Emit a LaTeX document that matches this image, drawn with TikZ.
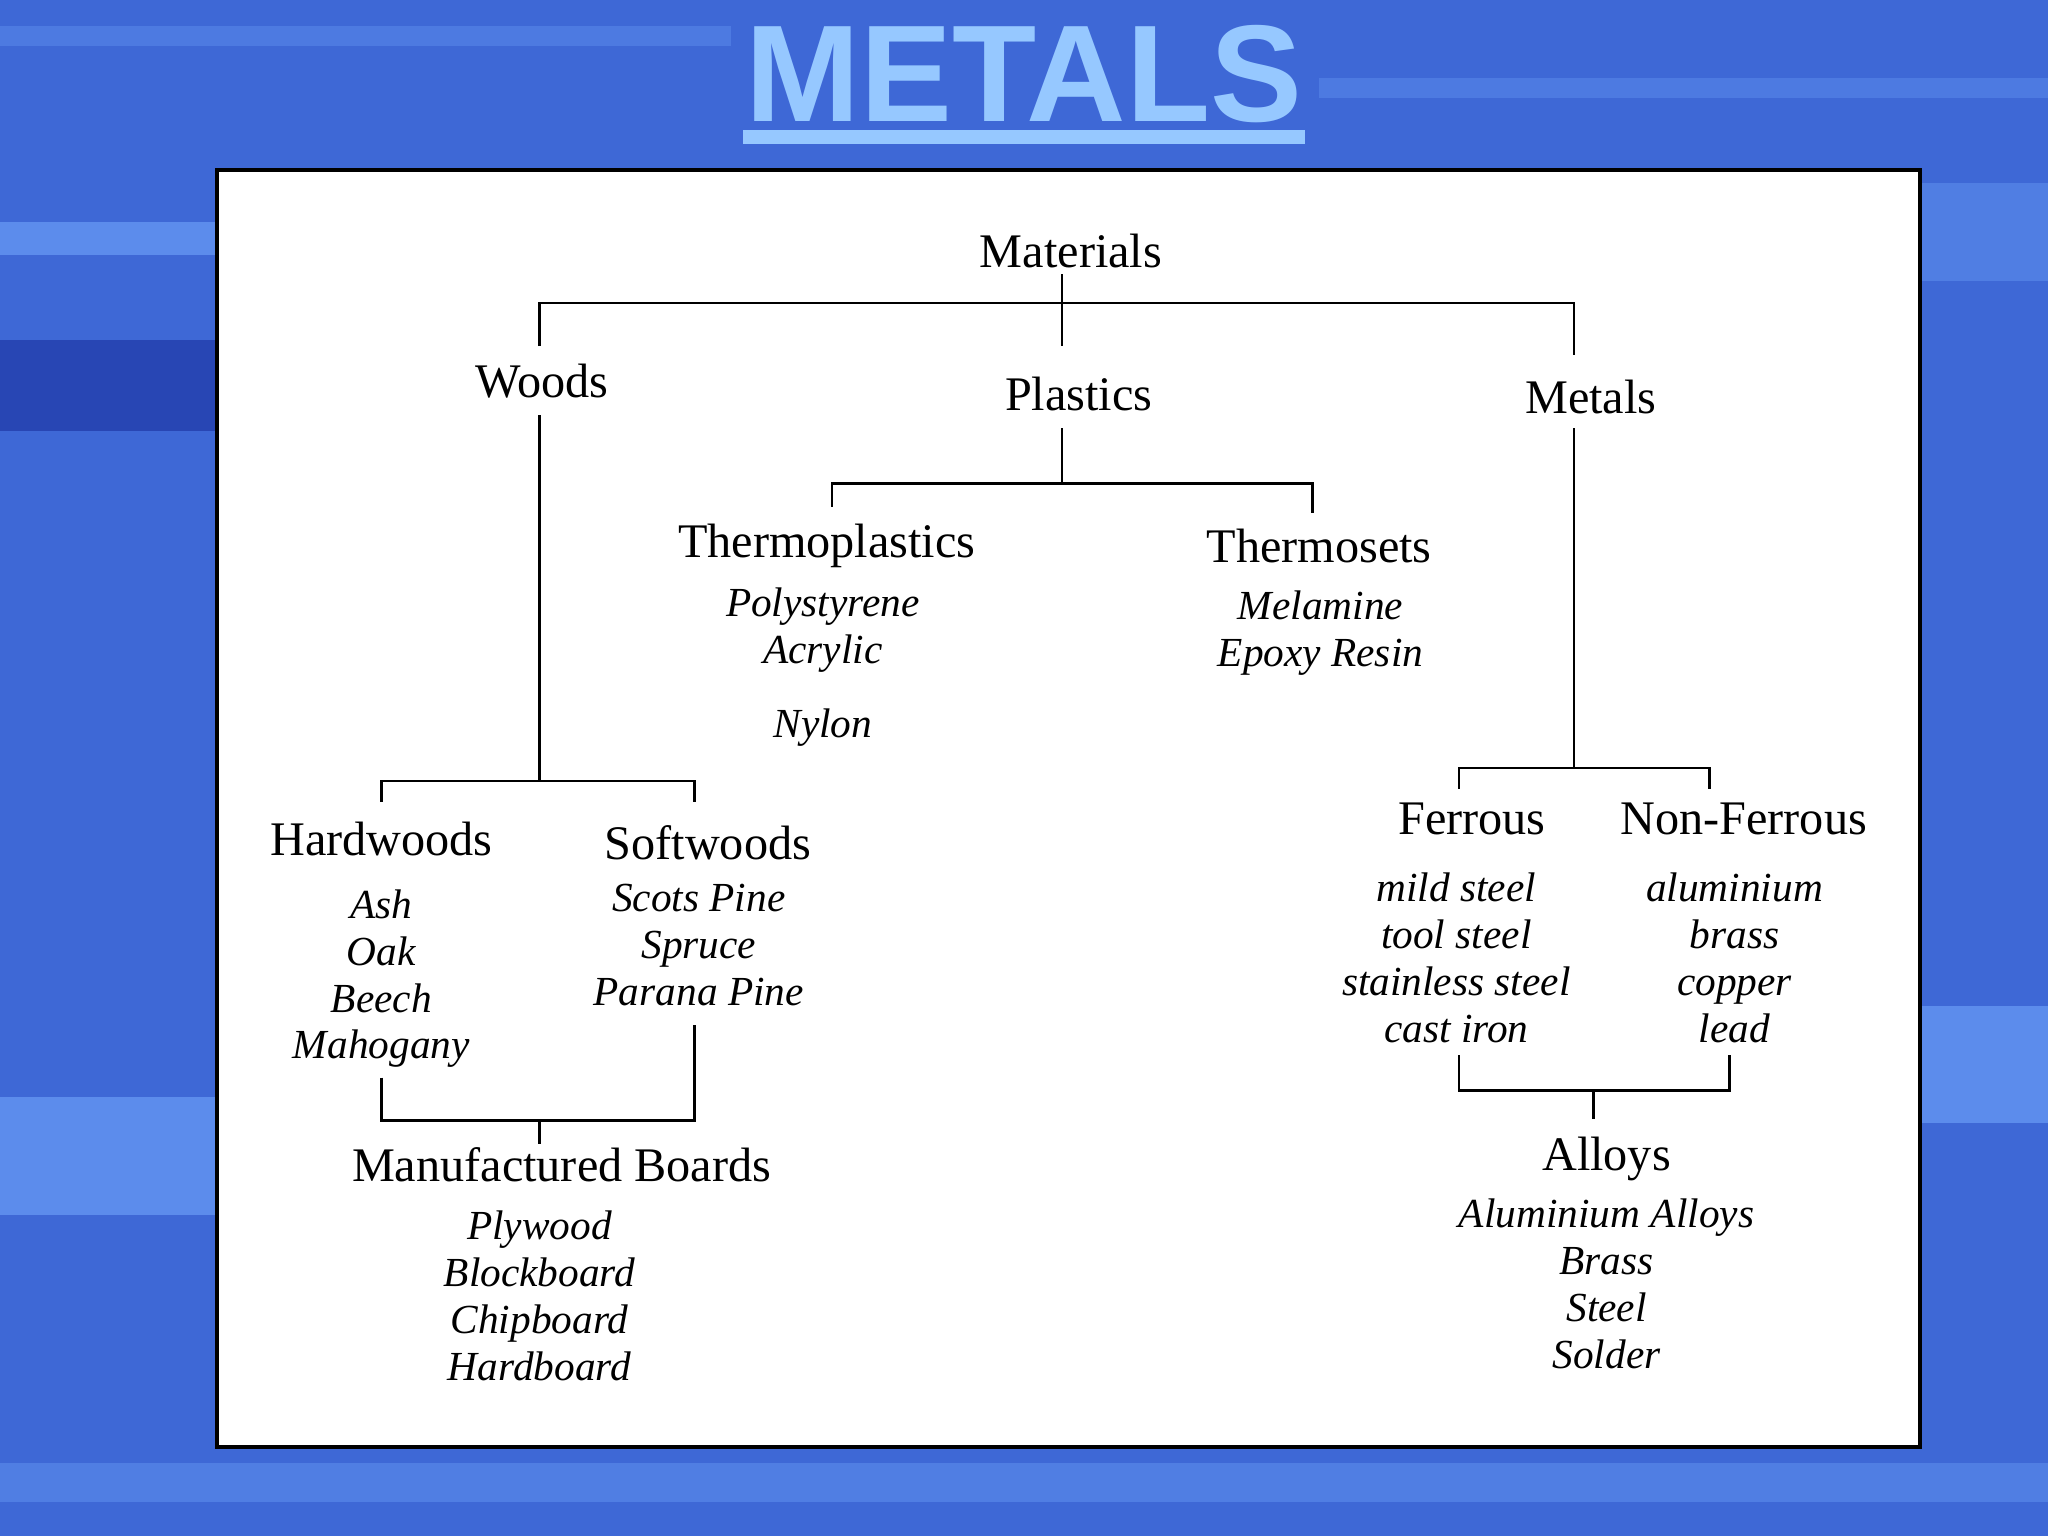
\documentclass[tikz,border=0pt]{standalone}
\usepackage{fontspec}
\setmainfont{Liberation Serif}
\newfontfamily\titlefont{Liberation Sans}
\usetikzlibrary{positioning}
\definecolor{slideblue}{RGB}{62,104,214}
\definecolor{bandblue}{RGB}{92,140,236}
\definecolor{darkband}{RGB}{40,70,180}
\definecolor{titleblue}{RGB}{150,200,255}
\tikzset{
  head/.style={font=\fontsize{10.5}{12}\selectfont, inner sep=1pt},
  items/.style={font=\fontsize{9}{10.2}\selectfont\itshape, align=center, inner sep=1pt},
  link/.style={draw=black, line width=0.6pt}
}
\begin{document}
\begin{tikzpicture}[x=0.01cm, y=-0.01cm]
\useasboundingbox (0,0) rectangle (1568,1176);
% background
\fill[slideblue] (0,0) rectangle (1568,1176);
\fill[bandblue!50!slideblue] (0,20) rectangle (560,35);
\fill[bandblue!50!slideblue] (1010,60) rectangle (1568,75);
\fill[bandblue] (0,170) rectangle (166,195);
\fill[darkband] (0,260) rectangle (166,330);
\fill[bandblue] (0,840) rectangle (166,930);
\fill[bandblue!60!slideblue] (1470,140) rectangle (1568,215);
\fill[bandblue] (1470,770) rectangle (1568,860);
\fill[bandblue!60!slideblue] (0,1120) rectangle (1568,1150);
% title
\node[font=\titlefont\bfseries\fontsize{30}{32}\selectfont, text=titleblue] (title) at (784,57) {METALS};
\draw[titleblue, line width=3pt] (569,105) -- (999,105);
% white panel
\fill[white, draw=black, line width=0.8pt] (166,130) rectangle (1470,1108);
% headings
\node[head] (materials) at (820,192) {Materials};
\node[head] (woods) at (415,292) {Woods};
\node[head] (plastics) at (826,302) {Plastics};
\node[head] (metals) at (1218,304) {Metals};
\node[head] (thermoplastics) at (633,418) {Thermoplastics};
\node[head] (thermosets) at (1010,418) {Thermosets};
\node[head] (hardwoods) at (292,642) {Hardwoods};
\node[head] (softwoods) at (542,645) {Softwoods};
\node[head] (ferrous) at (1127,627) {Ferrous};
\node[head] (nonferrous) at (1335,627) {Non-Ferrous};
\node[head] (boards) at (430,892) {Manufactured Boards};
\node[head] (alloys) at (1230,887) {Alloys};
% item lists
\node[items, anchor=north] (tplist) at (630,446) {Polystyrene\\Acrylic\\[6pt]Nylon};
\node[items, anchor=north] (tslist) at (1011,448) {Melamine\\Epoxy Resin};
\node[items, anchor=north] (hwlist) at (292,677) {Ash\\Oak\\Beech\\Mahogany};
\node[items, anchor=north] (swlist) at (535,673) {Scots Pine\\Spruce\\Parana Pine};
\node[items, anchor=north] (felist) at (1115,664) {mild steel\\tool steel\\stainless steel\\cast iron};
\node[items, anchor=north] (nflist) at (1328,664) {aluminium\\brass\\copper\\lead};
\node[items, anchor=north] (mblist) at (413,923) {Plywood\\Blockboard\\Chipboard\\Hardboard};
\node[items, anchor=north] (allist) at (1230,914) {Aluminium Alloys\\Brass\\Steel\\Solder};
% junctions
\coordinate (jmat) at (813,232);
\coordinate (jpla) at (813,370);
\coordinate (jwood) at (413,598);
\coordinate (jmet) at (1205,588);
\coordinate (jmb) at (413,858);
\coordinate (jal) at (1220,835);
% connectors
\draw[link] (813,210) -- (jmat);
\draw[link] (413,265) |- (jmat) -| (1205,272);
\draw[link] (jmat) -- (813,265);
\draw[link] (813,328) -- (jpla);
\draw[link] (637,388) |- (jpla) -| (1005,393);
\draw[link] (413,318) -- (jwood);
\draw[link] (292,614) |- (jwood) -| (532,614);
\draw[link] (1205,328) -- (jmet);
\draw[link] (1117,604) |- (jmet) -| (1309,604);
\draw[link] (292,825) |- (jmb) -| (532,785);
\draw[link] (jmb) -- (413,876);
\draw[link] (1117,808) |- (jal) -| (1324,808);
\draw[link] (jal) -- (1220,857);
\end{tikzpicture}
\end{document}
